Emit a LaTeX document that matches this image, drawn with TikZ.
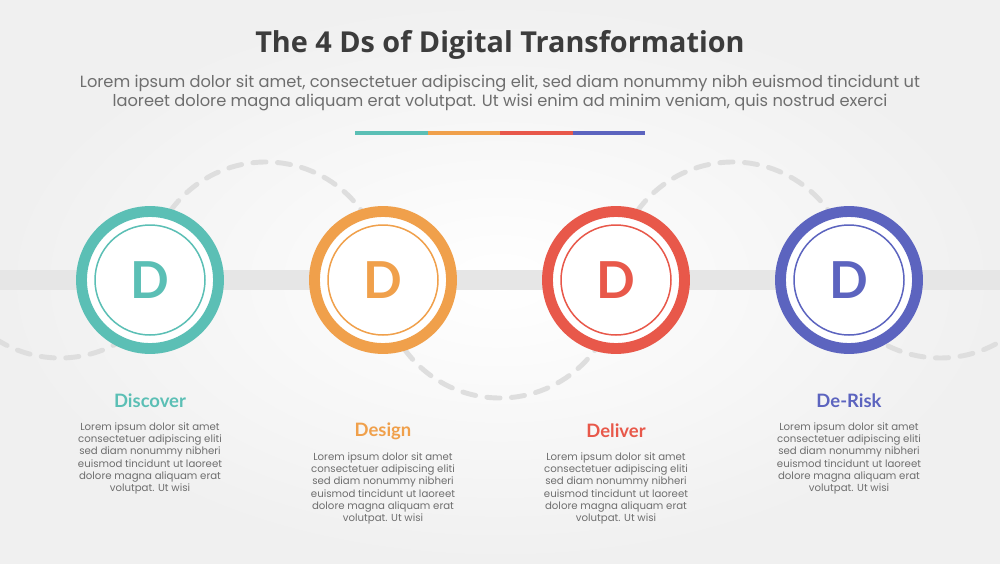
\documentclass[tikz,border=0pt]{standalone}
\usepackage{fontspec}
\usepackage{tikz}
\usetikzlibrary{positioning,calc}
\newfontfamily\popfont{Poppins}
\newfontfamily\latofont{Lato}
\newfontfamily\opfont{Open Sans}

\definecolor{bgcol}{HTML}{F0F0F0}
\definecolor{bandcol}{HTML}{E6E6E6}
\definecolor{dashcol}{HTML}{DEDEDE}
\definecolor{titlecol}{HTML}{3C3C3C}
\definecolor{textcol}{HTML}{6E6E6E}
\definecolor{tealD}{HTML}{5BBFB5}
\definecolor{orangeD}{HTML}{F0A04B}
\definecolor{redD}{HTML}{E8584A}
\definecolor{blueD}{HTML}{5C64BF}

\newcommand{\loremtxt}{Lorem ipsum dolor sit amet\\consectetuer adipiscing eliti\\sed diam nonummy nibheri\\euismod tincidunt ut laoreet\\dolore magna aliquam erat\\volutpat. Ut wisi}

\tikzset{
  ring/.style={circle, draw=#1, fill=white, line width=6.2pt, minimum size=27.4mm, inner sep=0pt,
    text=#1, font=\latofont\bfseries\fontsize{29}{30}\selectfont,
    path picture={\draw[#1, line width=0.85pt] (path picture bounding box.center) circle (11mm);}},
  steplabel/.style={font=\latofont\bfseries\fontsize{10.5}{12}\selectfont, text=#1},
  desc/.style={font=\popfont\fontsize{5.8}{7}\selectfont, text=textcol, align=center, inner sep=0pt},
  wave/.style={draw=dashcol, line width=2.8pt, dash pattern=on 7.5pt off 6.5pt, line cap=round}
}

\begin{document}
\begin{tikzpicture}[x=0.2mm, y=0.2mm]
    \shade[inner color=white, outer color=bgcol] (0,0) rectangle (1000,563);
    \useasboundingbox (0,0) rectangle (1000,563);
    \clip (0,0) rectangle (1000,563);

    % heading
    \node[font=\opfont\bfseries\fontsize{16.4}{19}\selectfont, text=titlecol] (title) at (500,518) {The 4 Ds of Digital Transformation};
    \node[font=\popfont\fontsize{9.25}{11.3}\selectfont, text=textcol, align=center] (subtitle) at (500,470)
        {Lorem ipsum dolor sit amet, consectetuer adipiscing elit, sed diam nonummy nibh euismod tincidunt ut\\
         laoreet dolore magna aliquam erat volutpat. Ut wisi enim ad minim veniam, quis nostrud exerci};
    \coordinate (bar0) at (355,430);
    \coordinate (bar1) at (427.5,430);
    \coordinate (bar2) at (500,430);
    \coordinate (bar3) at (572.5,430);
    \coordinate (bar4) at (645,430);
    \draw[tealD, line width=2.2pt] (bar0) -- (bar1);
    \draw[orangeD, line width=2.2pt] (bar1) -- (bar2);
    \draw[redD, line width=2.2pt] (bar2) -- (bar3);
    \draw[blueD, line width=2.2pt] (bar3) -- (bar4);

    % band and dashed waves
    \fill[bandcol] (0,273) rectangle (1000,293);
    \draw[wave] (60,323) ++(225:118) arc[start angle=225, end angle=320, radius=118];
    \draw[wave] (148,283) arc[start angle=180, end angle=0, radius=118];
    \draw[wave] (382,283) arc[start angle=180, end angle=360, radius=118];
    \draw[wave] (615,283) arc[start angle=180, end angle=0, radius=118];
    \draw[wave] (940,323) ++(220:118) arc[start angle=220, end angle=310, radius=118];

    % the four Ds
    \node[ring=tealD] (discover) at (150,283) {D};
    \node[ring=orangeD] (design) at (383,283) {D};
    \node[ring=redD] (deliver) at (616,283) {D};
    \node[ring=blueD] (derisk) at (849,283) {D};

    \node[steplabel=tealD] (discoverlbl) at (150,162) {Discover};
    \node[steplabel=orangeD] (designlbl) at (383,132) {Design};
    \node[steplabel=redD] (deliverlbl) at (616,132) {Deliver};
    \node[steplabel=blueD] (derisklbl) at (849,162) {De-Risk};

    \node[desc, anchor=north] (discovertxt) at (150,141) {\loremtxt};
    \node[desc, anchor=north] (designtxt) at (383,111) {\loremtxt};
    \node[desc, anchor=north] (delivertxt) at (616,111) {\loremtxt};
    \node[desc, anchor=north] (derisktxt) at (849,141) {\loremtxt};
\end{tikzpicture}
\end{document}
